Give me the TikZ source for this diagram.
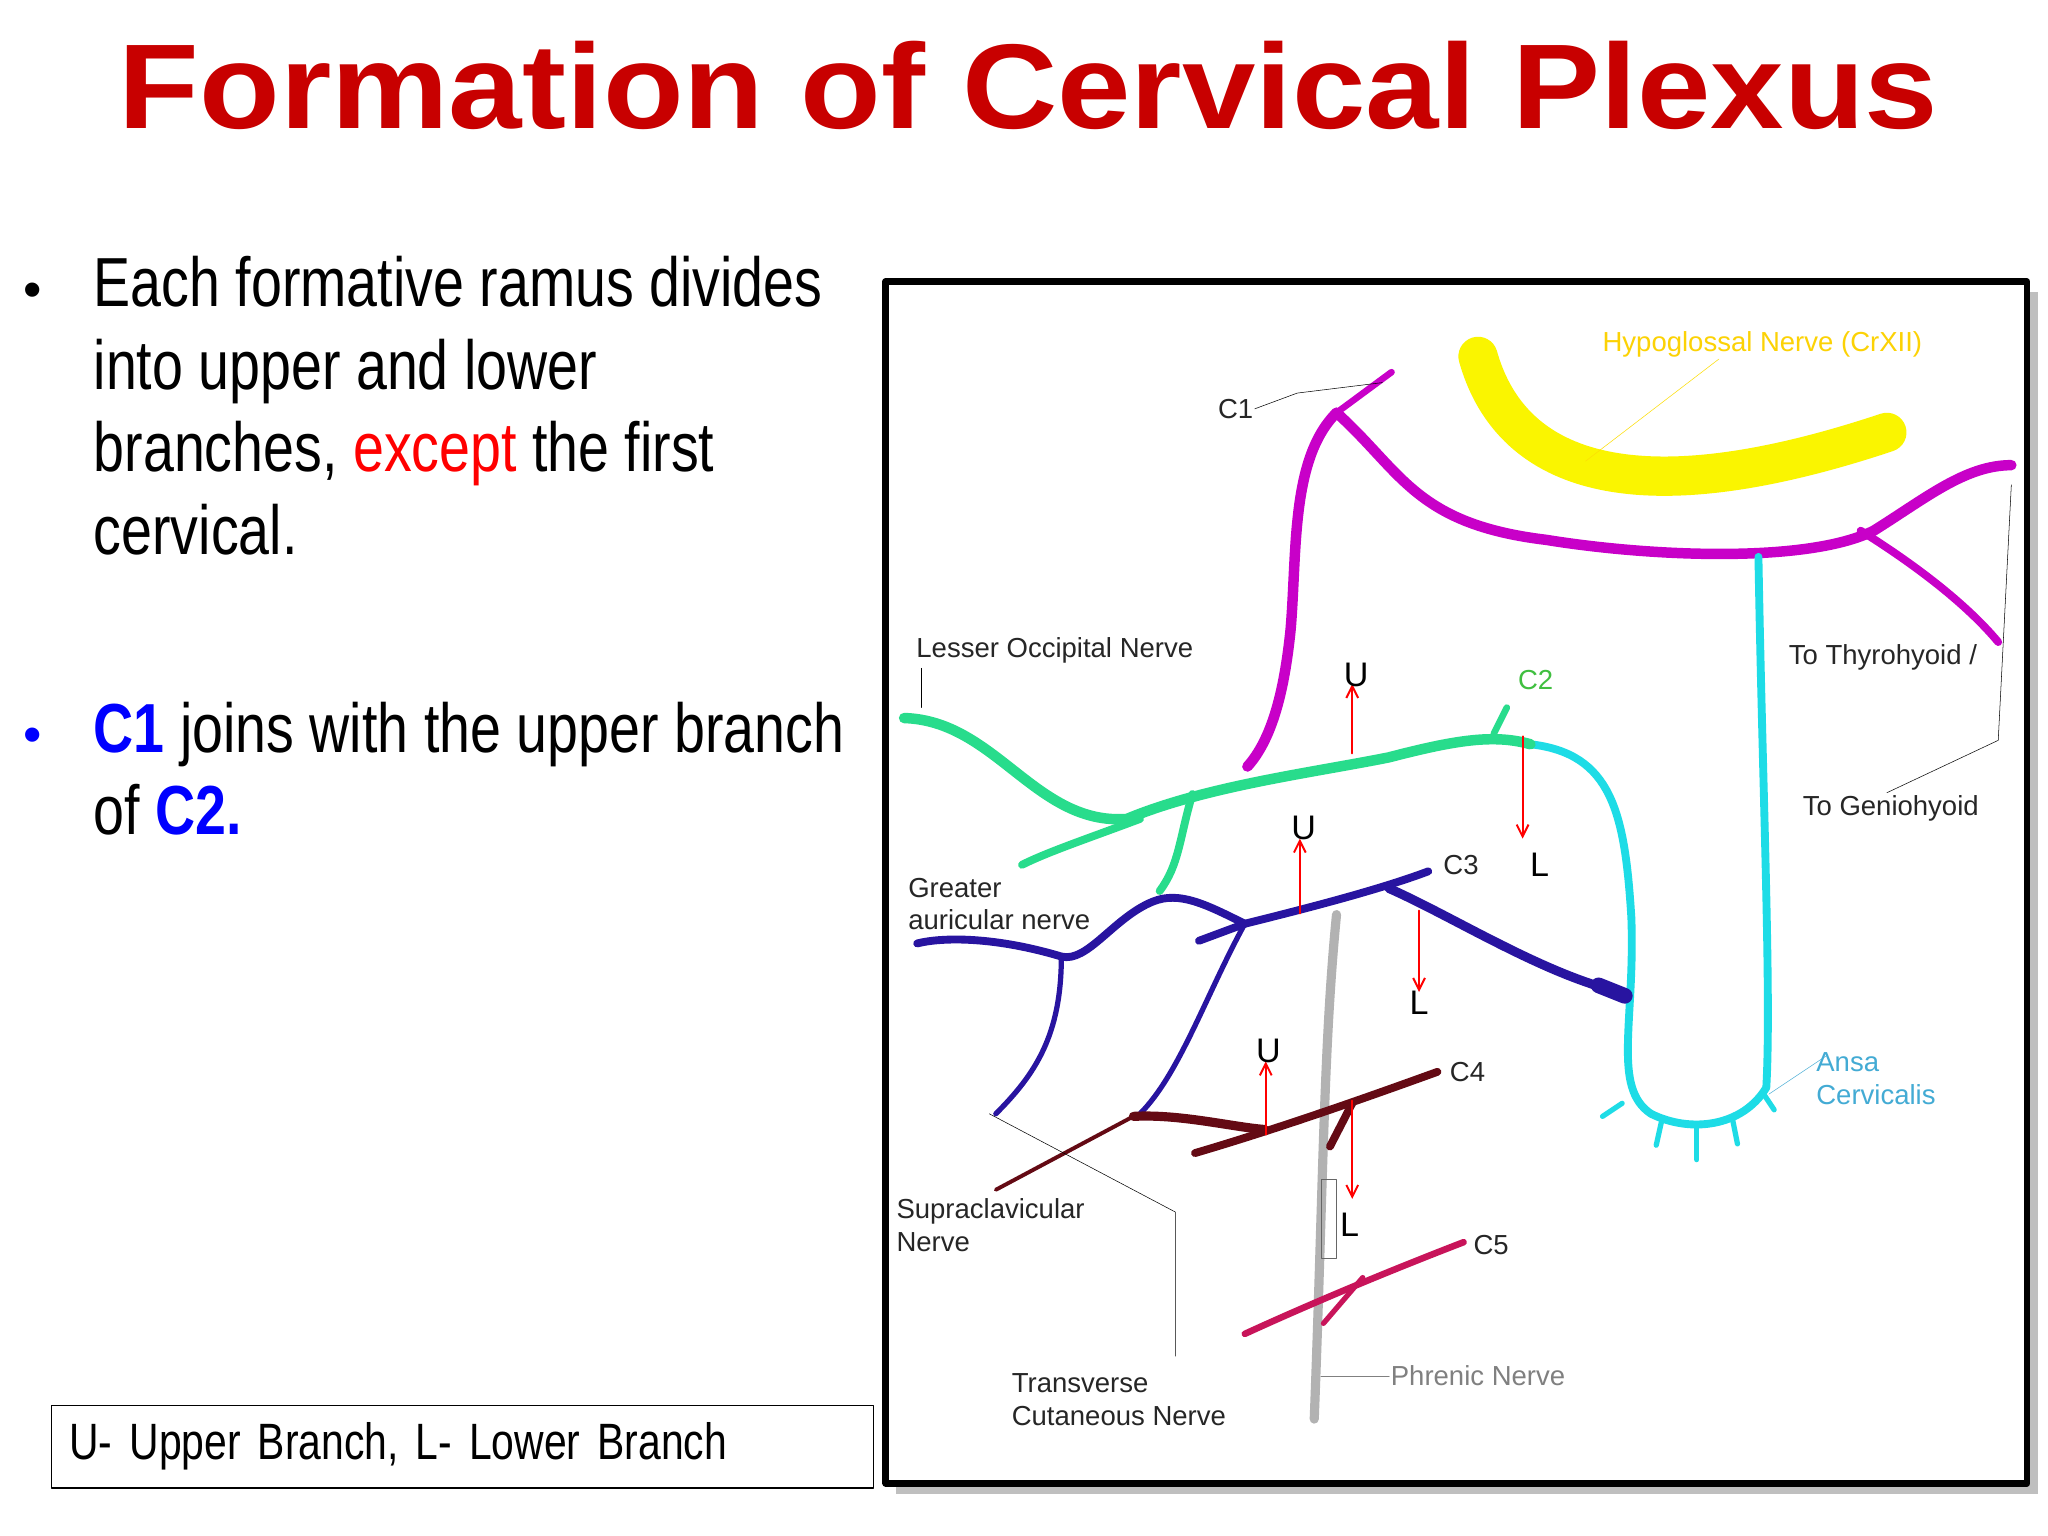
\documentclass[tikz,border=0pt]{standalone}
\usepackage{fontspec}
\setmainfont{Liberation Sans}
\newfontfamily\narrow[FakeStretch=0.8]{Liberation Sans}
\usetikzlibrary{arrows.meta}
\definecolor{titlered}{RGB}{200,0,0}
\definecolor{nmag}{RGB}{200,0,200}
\definecolor{ngreen}{RGB}{40,220,140}
\definecolor{nblue}{RGB}{40,20,160}
\definecolor{ndred}{RGB}{100,10,20}
\definecolor{ncrim}{RGB}{200,20,90}
\definecolor{ncyan}{RGB}{30,220,230}
\definecolor{nyel}{RGB}{250,245,0}
\begin{document}
\begin{tikzpicture}[x=1pt,y=-1pt,line cap=round,line join=round,
 lbl/.style={font=\fontsize{21}{25}\selectfont,text=black!85,inner sep=1pt,align=left},
 nerve/.style={line width=#1},
 rarrow/.style={red,line width=1.5pt,-{Straight Barb[length=9pt,width=9pt]}},
 ul/.style={font=\fontsize{26}{26}\selectfont,inner sep=0pt},
 bul/.style={font=\narrow\fontsize{53}{63}\selectfont,anchor=north west,align=left}]
\useasboundingbox (0,0) rectangle (1563,1172);
\fill[white] (0,0) rectangle (1563,1172);
\node[font=\fontsize{92}{92}\selectfont\bfseries,text=titlered,xscale=1.095] (title) at (785,65) {Formation of Cervical Plexus};
\node[bul] (b1) at (68,192) {Each formative ramus divides\\into upper and lower\\branches, {\color{red}except} the first\\cervical.};
\node[font=\fontsize{40}{40}\selectfont] (d1) at (25,225) {•};
\node[bul] (b2) at (68,532) {{\color{blue}\bfseries C1} joins with the upper branch\\of {\color{blue}\bfseries C2.}};
\node[font=\fontsize{40}{40}\selectfont,text=blue] (d2) at (25,565) {•};
\node[draw,line width=1pt,minimum width=627pt,minimum height=63pt,anchor=north west,font=\narrow\fontsize{39}{40}\selectfont,text width=600pt,align=left] (legend) at (39,1072) {U- Upper Branch, L- Lower Branch};
% frame
\fill[black!25] (684,223) rectangle (1555,1140);
\draw[line width=5pt,fill=white] (676,215) rectangle (1547,1132);
% yellow
\draw[nyel,line width=30pt] (1128,272) .. controls (1150,350) and (1230,400) .. (1440,330);
% magenta
\begin{scope}[draw=nmag]
\draw[nerve=8pt] (1020,315) .. controls (985,350) and (990,420) .. (985,480) .. controls (980,530) and (970,565) .. (952,585);
\draw[nerve=8pt] (1020,315) .. controls (1070,360) and (1080,400) .. (1180,412) .. controls (1260,425) and (1380,430) .. (1430,405) .. controls (1470,380) and (1500,355) .. (1535,355);
\draw[nerve=6pt] (1420,405) .. controls (1460,430) and (1500,460) .. (1525,490);
\draw[nerve=5pt] (1020,315) -- (1062,284);
\end{scope}
% cyan
\draw[ncyan,line width=6pt] (1168,568) .. controls (1230,575) and (1240,620) .. (1245,700) .. controls (1248,780) and (1230,830) .. (1260,850) .. controls (1290,865) and (1330,860) .. (1348,830) .. controls (1352,760) and (1345,600) .. (1342,425);
\foreach \x/\y/\dx/\dy in {1238/842/-15/10,1268/856/-4/18,1295/860/0/25,1322/853/4/20,1346/835/8/12} \draw[ncyan,line width=4pt] (\x,\y) -- +(\dx,\dy);
% green
\begin{scope}[draw=ngreen]
\draw[nerve=8pt] (690,548) .. controls (760,550) and (790,630) .. (860,625) .. controls (920,600) and (1000,590) .. (1060,578) .. controls (1110,565) and (1140,560) .. (1168,568);
\draw[nerve=6pt] (870,625) .. controls (830,640) and (800,650) .. (780,660);
\draw[nerve=6pt] (910,606) .. controls (900,640) and (900,660) .. (885,680);
\draw[nerve=5pt] (1140,560) -- (1150,540);
\end{scope}
% blue C3
\begin{scope}[draw=nblue]
\draw[nerve=6pt] (1090,665) .. controls (1050,680) and (990,695) .. (950,705) -- (915,718);
\draw[nerve=7pt] (1060,678) .. controls (1110,700) and (1180,745) .. (1240,758);
\draw[line width=12pt] (1220,752) -- (1240,760);
\draw[nerve=6pt] (950,705) .. controls (920,690) and (900,680) .. (880,688) .. controls (850,700) and (830,735) .. (810,730) .. controls (760,715) and (720,715) .. (700,720);
\draw[nerve=4pt] (810,730) .. controls (810,790) and (790,820) .. (760,850);
\draw[nerve=4pt] (950,705) .. controls (920,760) and (900,820) .. (870,850);
\end{scope}
% gray phrenic
\draw[gray!60,line width=7pt] (1020,698) .. controls (1010,800) and (1010,900) .. (1003,1083);
% C4 dark red
\begin{scope}[draw=ndred]
\draw[nerve=6pt] (1097,818) .. controls (1050,835) and (980,860) .. (912,880);
\draw[nerve=7pt] (865,852) .. controls (900,850) and (940,860) .. (965,862);
\draw[nerve=3pt] (865,852) -- (760,908);
\draw[nerve=6pt] (1032,842) -- (1015,875);
\end{scope}
% C5
\draw[ncrim,line width=5pt] (1117,948) .. controls (1060,970) and (1000,995) .. (950,1018);
\draw[ncrim,line width=4pt] (1040,975) -- (1010,1010);
% red arrows
\coordinate (a1s) at (1032,575); \coordinate (a1e) at (1032,522);
\coordinate (a2s) at (1162,562); \coordinate (a2e) at (1162,640);
\coordinate (a3s) at (992,697); \coordinate (a3e) at (992,640);
\coordinate (a4s) at (1083,695); \coordinate (a4e) at (1083,757);
\coordinate (a5s) at (966,866); \coordinate (a5e) at (966,810);
\coordinate (a6s) at (1032,840); \coordinate (a6e) at (1032,915);
\foreach \n in {1,...,6} \draw[rarrow] (a\n s) -- (a\n e);
\node[ul] (u1) at (1035,515) {U};
\node[ul] (l1) at (1175,660) {L};
\node[ul] (u2) at (995,632) {U};
\node[ul] (l2) at (1083,765) {L};
\node[ul] (u3) at (968,802) {U};
\node[ul] (l3) at (1030,935) {L};
% labels
\node[lbl] (c1) at (943,312) {C1};
\draw[thin] (c1.east) -- (990,300) -- (1055,292);
\node[lbl,text=green!50!gray] (c2) at (1172,519) {C2};
\node[lbl] (c3) at (1115,660) {C3};
\node[lbl] (c4) at (1120,818) {C4};
\node[lbl] (c5) at (1138,950) {C5};
\node[lbl,text=yellow!70!orange] (hyp) at (1345,263) {Hypoglossal Nerve (CrXII)};
\draw[yellow!80!orange,thin] (hyp.south west) ++(90,0) -- (1210,352);
\node[lbl] (lon) at (805,496) {Lesser Occipital Nerve};
\coordinate (lonl) at (703,540);
\draw[thin] (703,510) -- (lonl);
\node[lbl,anchor=west] (gan) at (692,690) {Greater\\auricular nerve};
\node[lbl] (thy) at (1437,502) {To Thyrohyoid /};
\node[lbl] (gen) at (1443,617) {To Geniohyoid};
\draw[thin] (1535,370) -- (1525,565) -- (1440,605);
\node[lbl,text=cyan!70!gray,anchor=west] (ansa) at (1385,823) {Ansa\\Cervicalis};
\draw[cyan!70!gray,thin] (1350,835) -- (1395,805);
\node[lbl,anchor=west] (sup) at (683,935) {Supraclavicular\\Nerve};
\node[lbl,anchor=west] (tcn) at (771,1068) {Transverse\\Cutaneous Nerve};
\draw[thin] (755,850) -- (897,925) -- (897,1035);
\node[lbl,text=gray] (phr) at (1128,1050) {Phrenic Nerve};
\draw[gray,thin] (1008,1050) -- (phr.west);
\draw[thin,black!60] (1008,900) rectangle (1020,960);
\end{tikzpicture}
\end{document}
